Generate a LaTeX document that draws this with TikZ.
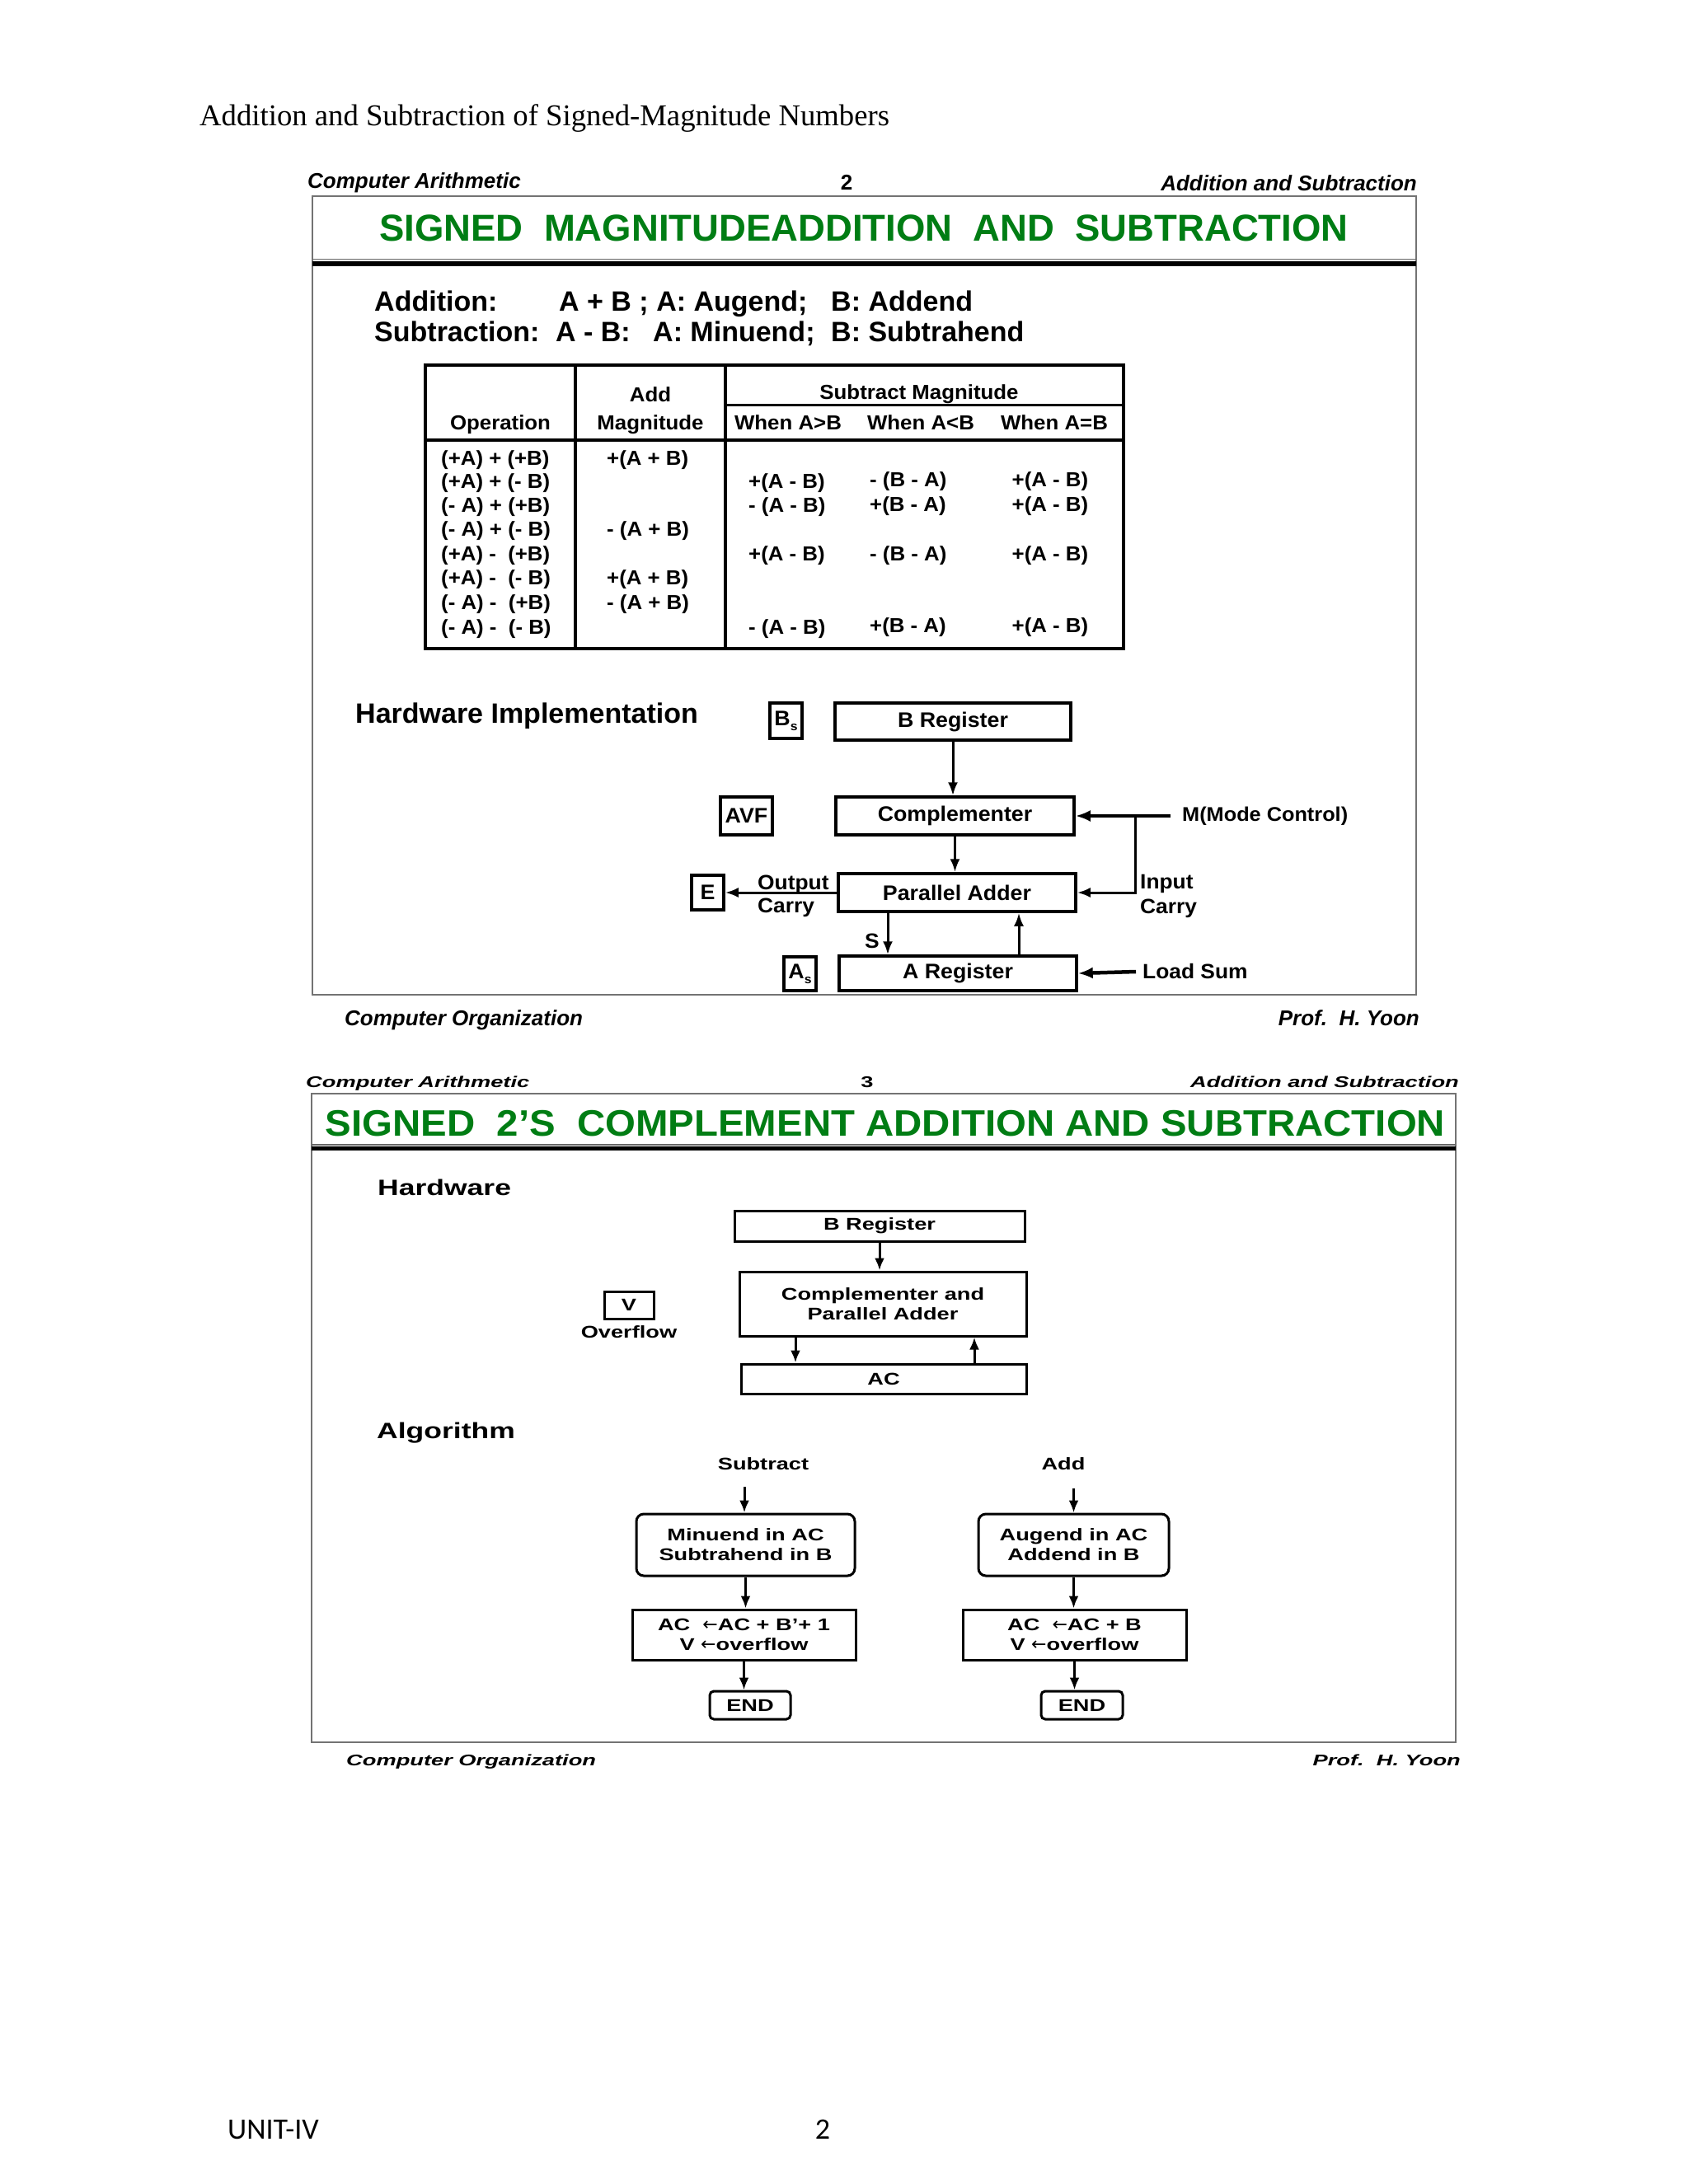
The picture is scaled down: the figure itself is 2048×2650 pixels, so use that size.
\documentclass[tikz,border=0pt]{standalone}
\usepackage{fontspec}
\setmainfont{Liberation Serif}
\newfontfamily\sH{Liberation Sans}
\newfontfamily\sA[FakeStretch=1.05]{Liberation Sans}
\newfontfamily\sB[FakeStretch=1.32]{Liberation Sans}
\newfontfamily\sT[FakeStretch=1.06]{Liberation Sans}
\newfontfamily\sHB[FakeStretch=1.45]{Liberation Sans}
\newfontfamily\calfont{Carlito}
\newfontfamily\dvs{DejaVu Sans}
\usetikzlibrary{arrows.meta}
\definecolor{ttlgreen}{RGB}{0,125,20}
\newcommand\fsz[2]{\fontsize{#1}{#2}\selectfont}
\newcommand\lar{{\dvs\mdseries\fsz{22}{24}\char"2190}}
\tikzset{
  hdr/.style={font={\sH\bfseries\itshape\fsz{26}{30}}, inner sep=0pt},
  hdrnum/.style={font={\sH\bfseries\fsz{26}{30}}, inner sep=0pt},
  hdrB/.style={font={\sHB\bfseries\itshape\fsz{18.8}{22}}, inner sep=0pt},
  hdrBnum/.style={font={\sHB\bfseries\fsz{18.8}{22}}, inner sep=0pt},
  slidebox/.style={draw=black!55, line width=1.5pt},
  thinsep/.style={draw=black!60, line width=1.5pt},
  thicksep/.style={draw=black, line width=5.5pt},
  bodyA/.style={font={\sH\bfseries\fsz{34}{38}}, inner sep=0pt},
  tb/.style={font={\sA\bfseries\fsz{24.6}{28}}, inner sep=0pt},
  lblA/.style={font={\sA\bfseries\fsz{25.1}{29}}, inner sep=0pt},
  boxA/.style={draw, line width=3.5pt, font={\sA\bfseries\fsz{25.5}{29}}, inner sep=0pt},
  tline/.style={line width=3.5pt},
  arr/.style={line width=3pt, -{Latex[length=16pt,width=12pt]}},
  arrB/.style={line width=4.5pt, -{Latex[length=18pt,width=14pt]}},
  bodyB/.style={font={\sB\bfseries\fsz{26.9}{31}}, inner sep=0pt},
  lblB/.style={font={\sB\bfseries\fsz{20.6}{24}}, inner sep=0pt},
  boxB/.style={draw, line width=3pt, font={\sB\bfseries\fsz{20.6}{24}}, inner sep=0pt, align=center},
  rboxB/.style={boxB, rounded corners=9pt},
  endB/.style={boxB, rounded corners=5pt},
  arr2/.style={line width=3pt, -{Latex[length=15pt,width=12pt]}}
}
\begin{document}
\begin{tikzpicture}[x=1pt,y=-1pt]
\useasboundingbox[fill=white] (0,0) rectangle (2048,2650);

% page heading and footer
\node[anchor=base west, inner sep=0pt, font=\fsz{36.7}{40}] (pghead) at (242,152) {Addition and Subtraction of Signed-Magnitude Numbers};
\node[anchor=base west, inner sep=0pt, font={\calfont\fsz{36}{40}}] (unit) at (276,2595) {UNIT-IV};
\node[anchor=base, inner sep=0pt, font={\calfont\fsz{36}{40}}] (pgnum) at (998,2595) {2};

%================ SLIDE 1 ================
\node[hdr, anchor=base west] (h1l) at (373,228) {Computer Arithmetic};
\node[hdrnum, anchor=base] (h1n) at (1027,230) {2};
\node[hdr, anchor=base east] (h1r) at (1719,231) {Addition and Subtraction};
\draw[slidebox] (379,238) rectangle (1718,1207);
\draw[thinsep] (379,314.5) -- (1718,314.5);
\draw[thicksep] (379,320) -- (1718,320);
\node[anchor=base, inner sep=0pt, font={\sH\bfseries\fsz{45.5}{50}}, text=ttlgreen] (t1) at (1048,292)
  {SIGNED\ \ MAGNITUDEADDITION\ \ AND\ \ SUBTRACTION};

\node[bodyA, anchor=base west] (ad1) at (454,377) {Addition:};
\node[bodyA, anchor=base west] (ad2) at (678,377) {A + B ; A: Augend;};
\node[bodyA, anchor=base west] (ad3) at (1008,377) {B: Addend};
\node[bodyA, anchor=base west] (sb1) at (454,414) {Subtraction:};
\node[bodyA, anchor=base west] (sb2) at (674,414) {A - B:};
\node[bodyA, anchor=base west] (sb3) at (792,414) {A: Minuend;};
\node[bodyA, anchor=base west] (sb4) at (1008,414) {B: Subtrahend};

% table
\draw[tline] (516,443) rectangle (1363,787);
\draw[tline] (698,443) -- (698,787);
\draw[tline] (880,443) -- (880,787);
\draw[line width=4pt] (516,533.5) -- (1363,533.5);
\draw[line width=3pt] (880,491.5) -- (1363,491.5);

\node[tb, anchor=base] (hop) at (607,521) {Operation};
\node[tb, anchor=base] (hadd1) at (789,487) {Add};
\node[tb, anchor=base] (hadd2) at (789,521) {Magnitude};
\node[tb, anchor=base] (hsub) at (1115,484) {Subtract Magnitude};
\node[tb, anchor=base] (hgt) at (956,521) {When A>B};
\node[tb, anchor=base] (hlt) at (1117,521) {When A<B};
\node[tb, anchor=base] (heq) at (1279,521) {When A=B};

\node[tb, anchor=base west] (op1) at (535,564) {(+A) + (+B)};
\node[tb, anchor=base west] (op2) at (535,592.5) {(+A) + (- B)};
\node[tb, anchor=base west] (op3) at (535,621.5) {(- A) + (+B)};
\node[tb, anchor=base west] (op4) at (535,650.5) {(- A) + (- B)};
\node[tb, anchor=base west] (op5) at (535,680) {(+A) -\ \ (+B)};
\node[tb, anchor=base west] (op6) at (535,709) {(+A) -\ \ (- B)};
\node[tb, anchor=base west] (op7) at (535,739) {(- A) -\ \ (+B)};
\node[tb, anchor=base west] (op8) at (535,769) {(- A) -\ \ (- B)};

\node[tb, anchor=base west] (am1) at (736,564) {+(A + B)};
\node[tb, anchor=base west] (am4) at (736,650.5) {- (A + B)};
\node[tb, anchor=base west] (am6) at (736,709) {+(A + B)};
\node[tb, anchor=base west] (am7) at (736,739) {- (A + B)};

\node[tb, anchor=base west] (g2) at (908,592.5) {+(A - B)};
\node[tb, anchor=base west] (g3) at (908,621.8) {- (A - B)};
\node[tb, anchor=base west] (g5) at (908,680.2) {+(A - B)};
\node[tb, anchor=base west] (g8) at (908,769.5) {- (A - B)};
\node[tb, anchor=base west] (l2) at (1055,590.8) {- (B - A)};
\node[tb, anchor=base west] (l3) at (1055,620.2) {+(B - A)};
\node[tb, anchor=base west] (l5) at (1055,680) {- (B - A)};
\node[tb, anchor=base west] (l8) at (1055,767.5) {+(B - A)};
\node[tb, anchor=base west] (e2) at (1227.5,590.8) {+(A - B)};
\node[tb, anchor=base west] (e3) at (1227.5,620.2) {+(A - B)};
\node[tb, anchor=base west] (e5) at (1227.5,680.2) {+(A - B)};
\node[tb, anchor=base west] (e8) at (1227.5,767.5) {+(A - B)};

% hardware implementation
\node[bodyA, anchor=base west] (hwi) at (431,877) {Hardware Implementation};
\node[boxA, minimum width=39, minimum height=43] (bs) at (953.5,874.5) {B\raisebox{-0.45ex}{\fsz{15}{15}s}};
\node[boxA, minimum width=286, minimum height=45] (breg) at (1156,875.5) {B Register};
\node[boxA, minimum width=63, minimum height=46] (avf) at (905.5,990) {AVF};
\node[boxA, minimum width=289, minimum height=46] (comp) at (1158.5,990) {Complementer};
\node[boxA, minimum width=288, minimum height=46] (pa) at (1161,1083) {Parallel Adder};
\node[boxA, minimum width=39, minimum height=42] (e) at (858.5,1083) {E};
\node[boxA, minimum width=288, minimum height=42] (areg) at (1162,1181) {A Register};
\node[boxA, minimum width=39, minimum height=41] (as) at (970.5,1181.5) {A\raisebox{-0.45ex}{\fsz{15}{15}s}};

\node[lblA, anchor=west, inner xsep=14pt, font={\sA\bfseries\fsz{24.1}{28}}] (mctl) at (1420,990) {M(Mode Control)};
\node[lblA, anchor=base west] (inp1) at (1383,1078) {Input};
\node[lblA, anchor=base west] (inp2) at (1383,1108) {Carry};
\node[lblA, anchor=base west] (out1) at (919,1079) {Output};
\node[lblA, anchor=base west] (out2) at (919,1107) {Carry};
\node[lblA, anchor=base] (slbl) at (1058,1150) {S};
\node[lblA, anchor=west, inner xsep=8pt] (ls) at (1378,1179) {Load Sum};

\draw[arr] (breg.south) -- (breg.south |- comp.north);
\draw[arr] (comp.south) -- (comp.south |- pa.north);
\draw[arr] (pa.west) -- (e.east);
\draw[arrB] (mctl.west) -- (comp.east);
\coordinate (j1) at (1377,990);
\draw[arr] (j1) |- (pa.east);
\coordinate (sx) at (1077,1130);
\coordinate (ux) at (1236,1130);
\draw[arr] (pa.south -| sx) -- (areg.north -| sx);
\draw[arr] (areg.north -| ux) -- (pa.south -| ux);
\draw[arrB] (ls.west) -- (areg.east);

\node[hdr, anchor=base west] (f1l) at (418,1244) {Computer Organization};
\node[hdr, anchor=base east] (f1r) at (1722,1244) {Prof.~~H.~Yoon};

%================ SLIDE 2 ================
\node[hdrB, anchor=base west] (h2l) at (371,1319) {Computer Arithmetic};
\node[hdrBnum, anchor=base] (h2n) at (1052,1319) {3};
\node[hdrB, anchor=base east] (h2r) at (1770,1319) {Addition and Subtraction};
\draw[slidebox] (378,1327) rectangle (1766,2114);
\draw[thinsep] (378,1389) -- (1766,1389);
\draw[draw=black, line width=4.5pt] (378,1393.5) -- (1766,1393.5);
\node[anchor=base, inner sep=0pt, font={\sT\bfseries\fsz{44.7}{50}}, text=ttlgreen] (t2) at (1074,1378)
  {SIGNED\ \ 2’S\ \ COMPLEMENT ADDITION AND SUBTRACTION};

\node[bodyB, anchor=base west] (hw2) at (458,1450) {Hardware};
\node[boxB, minimum width=352, minimum height=37] (breg2) at (1067,1487.5) {B Register};
\node[boxB, minimum width=348, minimum height=78] (cpa) at (1071,1582) {Complementer and\\Parallel Adder};
\node[boxB, minimum width=346, minimum height=36] (ac) at (1072,1673) {AC};
\node[boxB, minimum width=60, minimum height=33] (vbox) at (763,1583.5) {V};
\node[lblB, anchor=base] (ovf) at (763,1623) {Overflow};
\draw[arr2] (breg2.south) -- (breg2.south |- cpa.north);
\coordinate (dx) at (965,1640);
\coordinate (ux2) at (1182,1640);
\draw[arr2] (cpa.south -| dx) -- (ac.north -| dx);
\draw[arr2] (ac.north -| ux2) -- (cpa.south -| ux2);

\node[bodyB, anchor=base west] (alg) at (457,1745) {Algorithm};
\node[lblB, anchor=base] (sub) at (926,1783) {Subtract};
\node[lblB, anchor=base] (addl) at (1290,1783) {Add};
\node[rboxB, minimum width=265, minimum height=75] (minu) at (904.5,1874.5) {Minuend in AC\\Subtrahend in B};
\node[rboxB, minimum width=231, minimum height=75] (aug) at (1302.5,1874.5) {Augend in AC\\Addend in B};
\node[boxB, minimum width=271, minimum height=61] (lc) at (902.5,1983.5) {AC\ \ \lar AC + B’+ 1\\V \lar overflow};
\node[boxB, minimum width=271, minimum height=61] (rc) at (1303.5,1983.5) {AC\ \ \lar AC + B\\V \lar overflow};
\node[endB, minimum width=98, minimum height=34] (lend) at (910,2069) {END};
\node[endB, minimum width=99, minimum height=34] (rend) at (1312.5,2069) {END};
\coordinate (s0) at (903,1804);
\coordinate (a0) at (1302.5,1806);
\draw[arr2] (s0) -- (s0 |- minu.north);
\draw[arr2] (a0) -- (a0 |- aug.north);
\draw[arr2] (minu.south) -- (minu.south |- lc.north);
\draw[arr2] (aug.south) -- (aug.south |- rc.north);
\draw[arr2] (lc.south) -- (lc.south |- lend.north);
\draw[arr2] (rc.south) -- (rc.south |- rend.north);

\node[hdrB, anchor=base west] (f2l) at (420,2142) {Computer Organization};
\node[hdrB, anchor=base east] (f2r) at (1772,2142) {Prof.~~H.~Yoon};
\end{tikzpicture}
\end{document}
